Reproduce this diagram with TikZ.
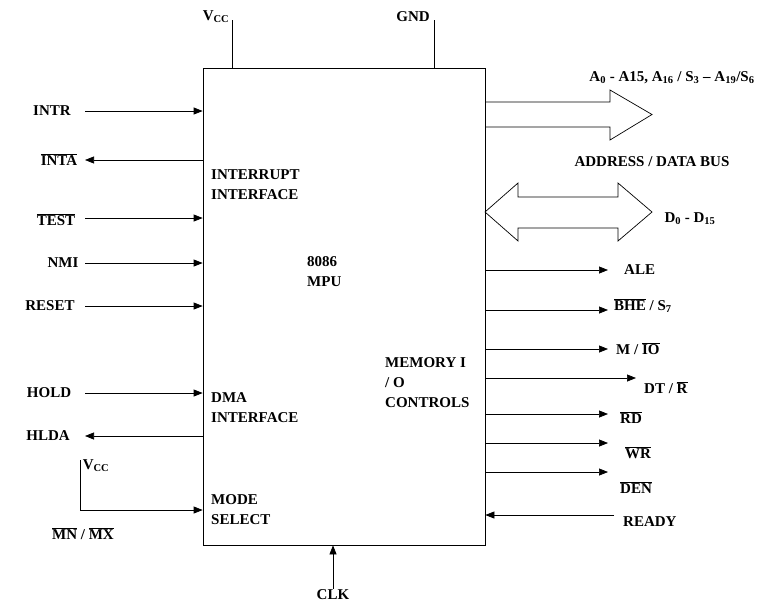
\documentclass[tikz,border=0pt]{standalone}
\usepackage{fontspec}
\setmainfont{Liberation Serif}
\usetikzlibrary{arrows.meta}
\tikzset{
  lbl/.style={font=\fontsize{15}{20}\selectfont\bfseries,inner sep=1pt},
  inlbl/.style={lbl,align=left,anchor=west},
  sig/.style={-{Triangle[length=9pt,width=7pt]},line width=0.7pt}
}
\begin{document}
\begin{tikzpicture}[x=1pt,y=-1pt]
\useasboundingbox (0,0) rectangle (780,614);
\node[draw=black,line width=0.7pt,minimum width=282pt,minimum height=477pt,inner sep=0pt] (MPU) at (344,306.5) {};
% top
\node[lbl] (VCC) at (216,17) {V\textsubscript{CC}};
\node[lbl] (GND) at (413,17) {GND};
\coordinate (VCCt) at (232,20);
\coordinate (GNDt) at (434,20);
\draw[line width=0.7pt] (VCCt) -- (VCCt |- MPU.north);
\draw[line width=0.7pt] (GNDt) -- (GNDt |- MPU.north);
% inside
\node[inlbl] (II) at (210,185) {INTERRUPT\\INTERFACE};
\node[inlbl] (CPU) at (306,272) {8086\\MPU};
\node[inlbl] (DMA) at (210,408) {DMA\\INTERFACE};
\node[inlbl] (MODE) at (210,510) {MODE\\SELECT};
\node[inlbl] (MIO) at (384,383) {MEMORY I\\/ O\\CONTROLS};
% left side
\node[lbl] (INTR) at (52,111) {INTR};
\node[lbl] (INTA) at (59,160) {$\overline{\mbox{INTA}}$};
\node[lbl] (TEST) at (56,220) {$\overline{\mbox{TEST}}$};
\node[lbl] (NMI) at (63,263) {NMI};
\node[lbl] (RESET) at (50,306) {RESET};
\node[lbl] (HOLD) at (49,393) {HOLD};
\node[lbl] (HLDA) at (48,436) {HLDA};
\coordinate (INTRe) at (85,111);
\coordinate (INTAe) at (85,160);
\coordinate (TESTe) at (85,218);
\coordinate (NMIe) at (85,263);
\coordinate (RESETe) at (85,306);
\coordinate (HOLDe) at (85,393);
\coordinate (HLDAe) at (85,436);
\draw[sig] (INTRe) -- (INTRe -| MPU.west);
\draw[sig] (INTAe -| MPU.west) -- (INTAe);
\draw[sig] (TESTe) -- (TESTe -| MPU.west);
\draw[sig] (NMIe) -- (NMIe -| MPU.west);
\draw[sig] (RESETe) -- (RESETe -| MPU.west);
\draw[sig] (HOLDe) -- (HOLDe -| MPU.west);
\draw[sig] (HLDAe -| MPU.west) -- (HLDAe);
\node[lbl] (VCC2) at (96,466) {V\textsubscript{CC}};
\node[lbl] (MNMX) at (83,534) {$\overline{\mbox{MN}}$ / $\overline{\mbox{MX}}$};
\coordinate (MNt) at (80,460);
\coordinate (MNc) at (80,510);
\draw[sig] (MNt) -- (MNc) -- (MNc -| MPU.west);
% bottom
\node[lbl] (CLK) at (333,595) {CLK};
\draw[sig] (CLK.north) -- (CLK.north |- MPU.south);
% right side buses
\node[lbl] (ADDR) at (672,78) {A\textsubscript{0} - A15, A\textsubscript{16} / S\textsubscript{3} -- A\textsubscript{19}/S\textsubscript{6}};
\node[lbl] (BUS) at (652,162) {ADDRESS / DATA BUS};
\node[lbl] (DATA) at (690,219) {D\textsubscript{0} - D\textsubscript{15}};
\draw[line width=0.7pt] (485,102) -- (610,102) -- (610,90) -- (652,114.5) -- (610,140) -- (610,127) -- (485,127);
\draw[line width=0.7pt] (485,212) -- (518,183) -- (518,197) -- (618,197) -- (618,183) -- (652,212)
  -- (618,241) -- (618,228) -- (518,228) -- (518,241) -- cycle;
% right side signals
\node[lbl,anchor=west] (ALE) at (623,270) {ALE};
\node[lbl,anchor=west] (BHE) at (613,306) {$\overline{\mbox{BHE}}$ / S\textsubscript{7}};
\node[lbl,anchor=west] (MIOs) at (615,349) {M / $\overline{\mbox{IO}}$};
\node[lbl,anchor=west] (DTR) at (643,388) {DT / $\overline{\mbox{R}}$};
\node[lbl,anchor=west] (RD) at (619,418) {$\overline{\mbox{RD}}$};
\node[lbl,anchor=west] (WR) at (624,453) {$\overline{\mbox{WR}}$};
\node[lbl,anchor=west] (DEN) at (619,488) {$\overline{\mbox{DEN}}$};
\node[lbl,anchor=west] (READY) at (622,522) {READY};
\coordinate (ALEe) at (608,270);
\coordinate (BHEe) at (608,310);
\coordinate (MIOe) at (608,349);
\coordinate (DTRe) at (636,378);
\coordinate (RDe) at (608,414);
\coordinate (WRe) at (608,443);
\coordinate (DENe) at (608,472);
\coordinate (READYe) at (614,515);
\draw[sig] (ALEe -| MPU.east) -- (ALEe);
\draw[sig] (BHEe -| MPU.east) -- (BHEe);
\draw[sig] (MIOe -| MPU.east) -- (MIOe);
\draw[sig] (DTRe -| MPU.east) -- (DTRe);
\draw[sig] (RDe -| MPU.east) -- (RDe);
\draw[sig] (WRe -| MPU.east) -- (WRe);
\draw[sig] (DENe -| MPU.east) -- (DENe);
\draw[sig] (READYe) -- (READYe -| MPU.east);
\end{tikzpicture}
\end{document}
